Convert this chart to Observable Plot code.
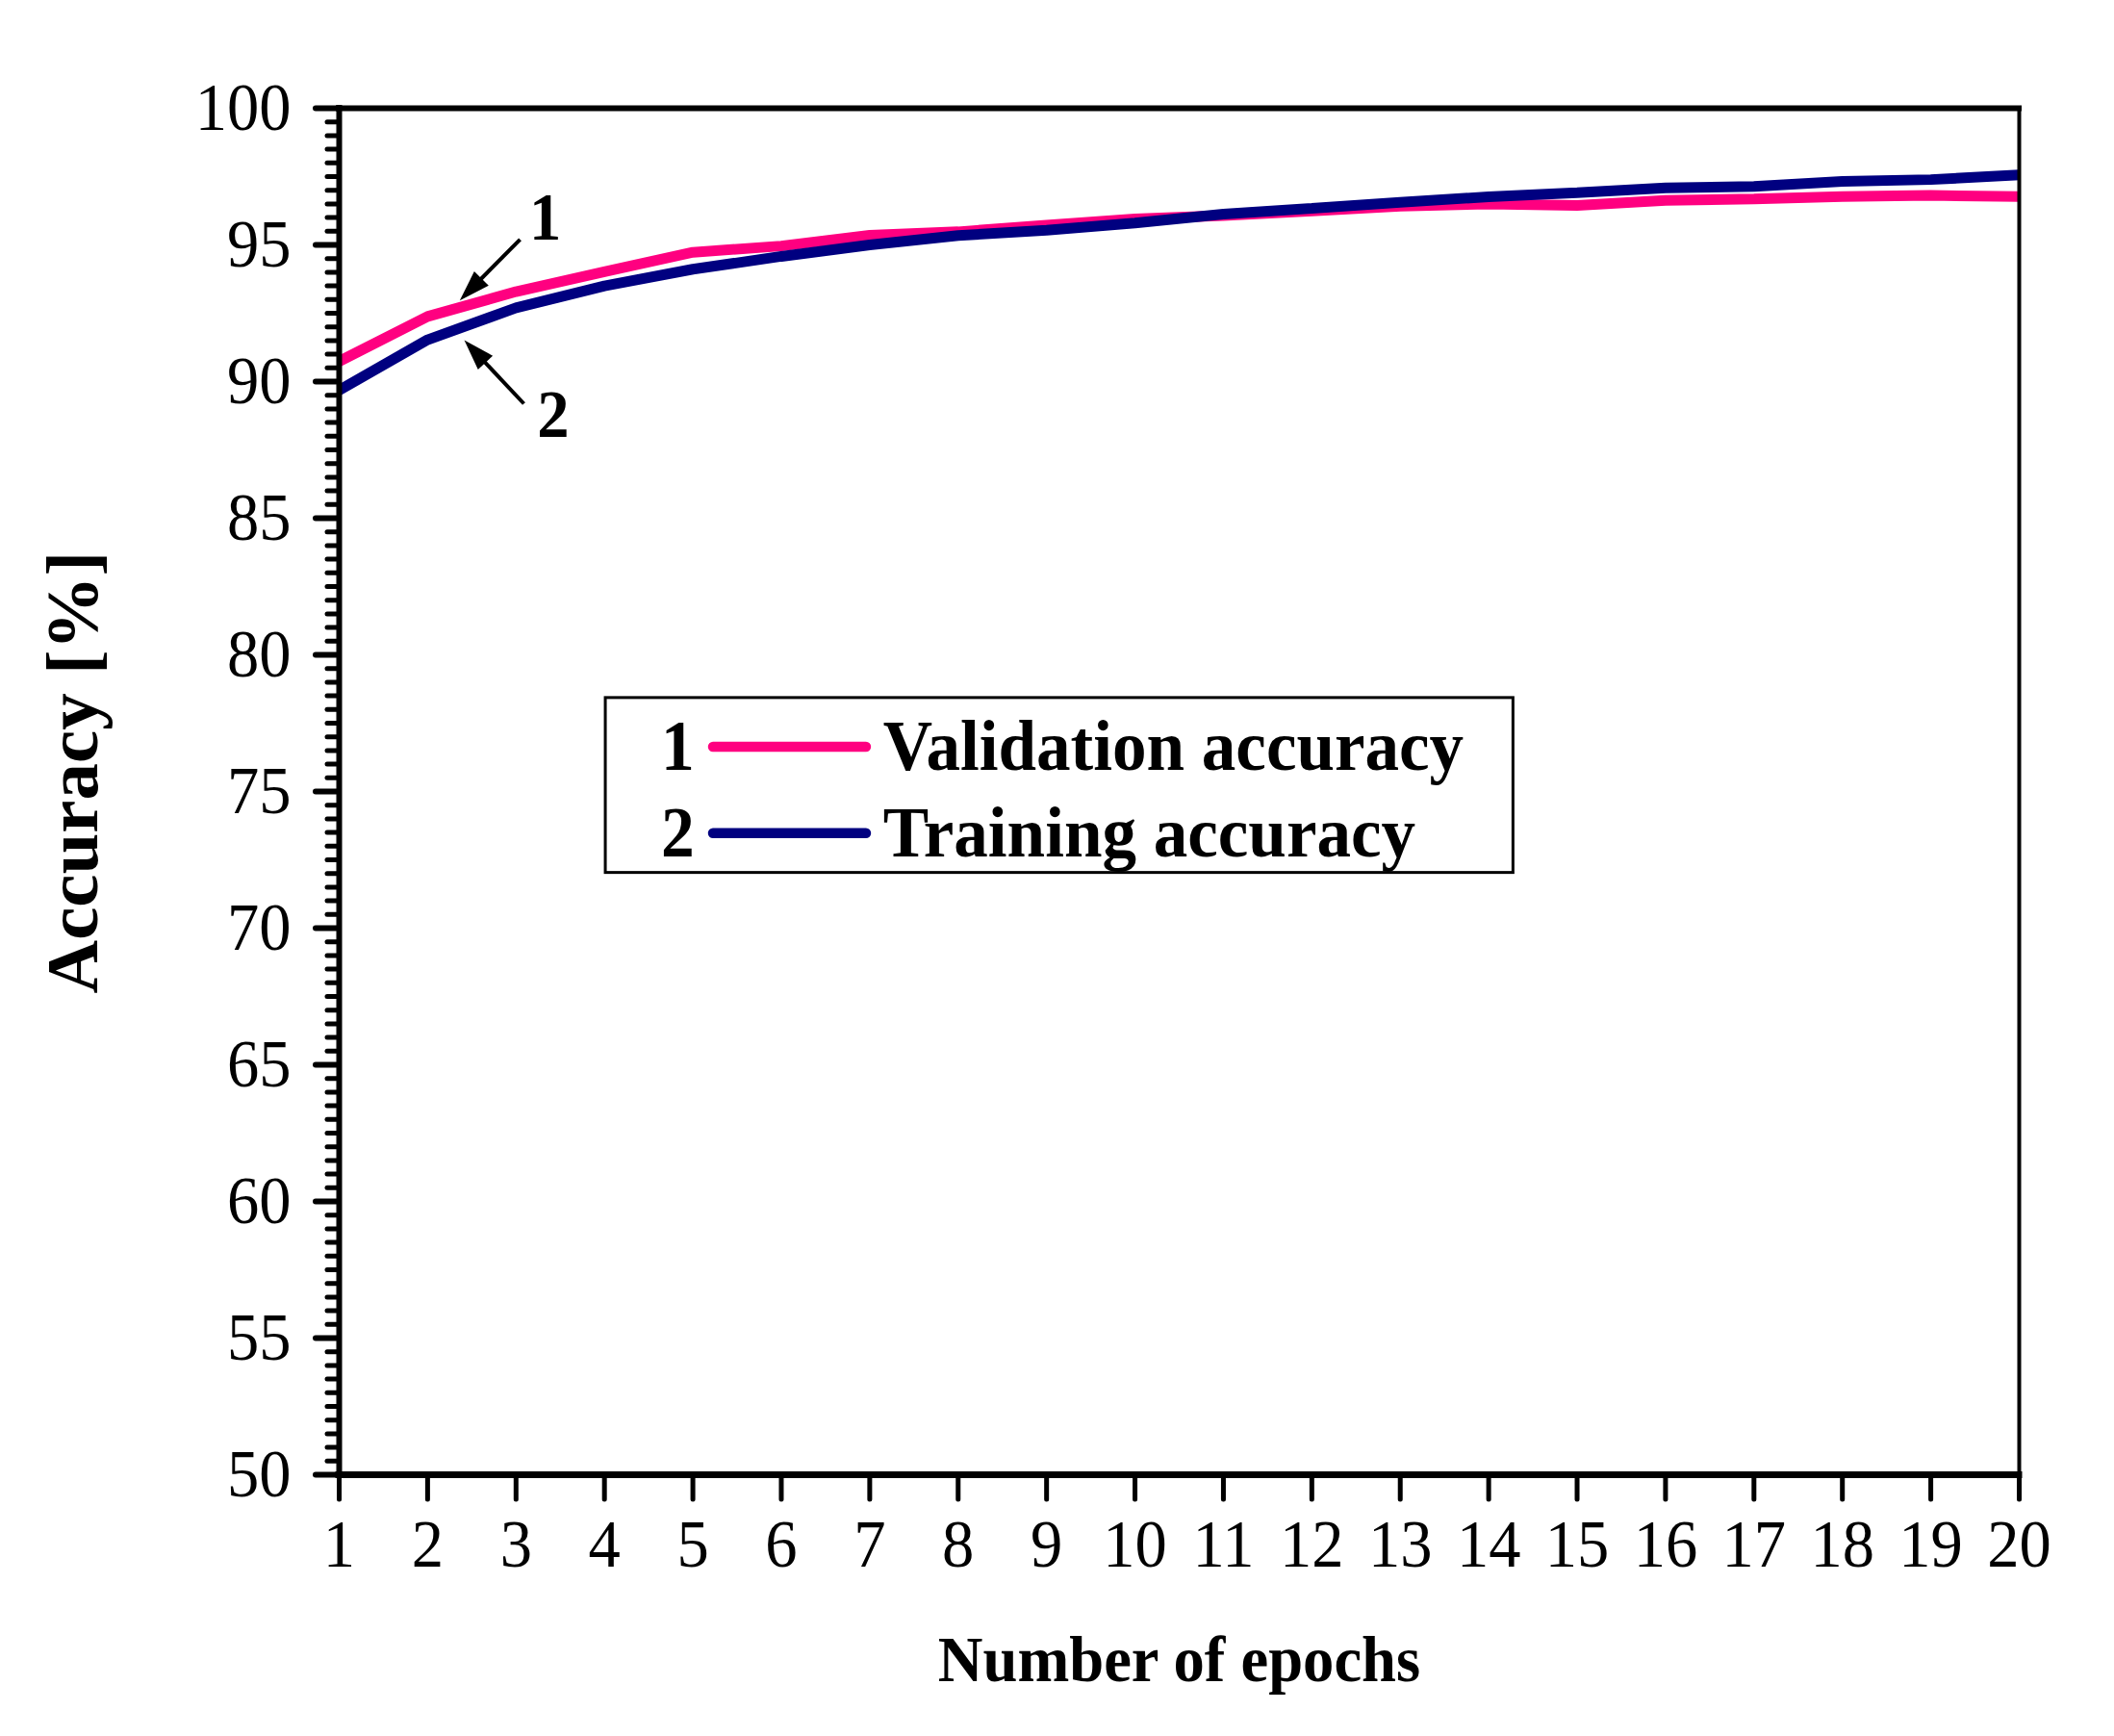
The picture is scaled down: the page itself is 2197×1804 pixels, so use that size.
<!DOCTYPE html>
<html>
<head>
<meta charset="utf-8">
<script src="https://cdn.jsdelivr.net/npm/d3@7"></script>
<script src="https://cdn.jsdelivr.net/npm/@observablehq/plot@0.6"></script>
<style>
  html, body { margin: 0; padding: 0; background: #fff; }
  svg { display: block; }
</style>
</head>
<body>
<div id="chart"></div>
<script>
// ---- data ----
const epochs = [1, 2, 3, 4, 5, 6, 7, 8, 9, 10, 11, 12, 13, 14, 15, 16, 17, 18, 19, 20];
const validation = [90.74, 92.38, 93.29, 94.02, 94.73, 94.96, 95.35, 95.48, 95.72, 95.95,
                    96.07, 96.24, 96.42, 96.50, 96.44, 96.63, 96.68, 96.77, 96.81, 96.77];
const training   = [89.68, 91.53, 92.70, 93.50, 94.11, 94.58, 95.00, 95.34, 95.54, 95.80,
                    96.13, 96.34, 96.56, 96.76, 96.91, 97.09, 97.14, 97.32, 97.39, 97.56];
const xTicks = [1, 2, 3, 4, 5, 6, 7, 8, 9, 10, 11, 12, 13, 14, 15, 16, 17, 18, 19, 20];
const yTicks = [50, 55, 60, 65, 70, 75, 80, 85, 90, 95, 100];
const yMinorTicks = d3.range(0, 101).filter(i => i % 10 !== 0).map(i => 50 + i * 0.5);

const seriesNumbers = ["1", "2"];
const seriesNames = ["Validation accuracy", "Training accuracy"];
const seriesColors = ["#ff0080", "#000080"];
const xTitle = "Number of epochs";
const yTitle = "Accuracy [%]";

// annotation anchors (in data units: epoch, accuracy)
const arrowTails = [[3.046, 95.20], [3.089, 89.19]];
const arrowTips = [[2.364, 92.97], [2.415, 91.51]];
const labelAnchors = [[3.329, 95.18], [3.421, 87.99]];

// legend placement (in data units)
const legendBox = {x1: 4.015, x2: 14.28, y1: 72.02, y2: 78.42};
const legendLineY = [76.64, 73.48];
const legendBaselineY = [75.80, 72.64];
const legendNumberX = 4.83;
const legendLineX = [5.233, 6.963];
const legendTextX = 7.15;

// y-axis title anchor (in data units, left of the frame)
const yTitleAnchor = [-1.735, 75.70];

// ---- layout ----
const W = 2197, H = 1804, ML = 352, MR = 99, MT = 112, MB = 272;
const xS = d3.scaleLinear([1, 20], [ML, W - MR]);
const yS = d3.scaleLinear([50, 100], [H - MB, MT]);
const HEAD_L = 32, HEAD_W = 21;

function headAngle(tail, tip) {
  return Math.atan2(yS(tip[1]) - yS(tail[1]), xS(tip[0]) - xS(tail[0]));
}
function arrowHead(a) {
  const c = Math.cos(a), s = Math.sin(a);
  return {
    draw(ctx) {
      const bx = -HEAD_L * c, by = -HEAD_L * s;
      const px = -s * HEAD_W / 2, py = c * HEAD_W / 2;
      ctx.moveTo(0, 0);
      ctx.lineTo(bx + px, by + py);
      ctx.lineTo(bx - px, by - py);
      ctx.closePath();
    }
  };
}
const arrowMarks = arrowTips.flatMap((tip, i) => {
  const tail = arrowTails[i];
  const a = headAngle(tail, tip);
  const end = [xS.invert(xS(tip[0]) - 0.6 * HEAD_L * Math.cos(a)),
               yS.invert(yS(tip[1]) - 0.6 * HEAD_L * Math.sin(a))];
  return [
    Plot.link([0], {x1: tail[0], y1: tail[1], x2: end[0], y2: end[1],
                    stroke: "black", strokeWidth: 4}),
    Plot.dot([0], {x: tip[0], y: tip[1], r: 10, symbol: arrowHead(a), fill: "black"})
  ];
});

const legendMarks = [
  Plot.rect([legendBox], {x1: "x1", x2: "x2", y1: "y1", y2: "y2",
                          fill: "white", stroke: "black", strokeWidth: 3}),
  ...seriesColors.map((col, i) =>
    Plot.ruleY([legendLineY[i]], {x1: legendLineX[0], x2: legendLineX[1],
                                  stroke: col, strokeWidth: 10.5, strokeLinecap: "round"})),
  Plot.text(seriesNumbers, {x: legendNumberX, y: legendBaselineY, text: d => d,
                            lineAnchor: "bottom", fontWeight: "bold", fontSize: 73}),
  Plot.text(seriesNames, {x: legendTextX, y: legendBaselineY, text: d => d,
                          textAnchor: "start", lineAnchor: "bottom",
                          fontWeight: "bold", fontSize: 73.5})
];

const plot = Plot.plot({
  width: W, height: H,
  marginLeft: ML, marginRight: MR, marginTop: MT, marginBottom: MB,
  style: {fontFamily: '"Liberation Serif", "Times New Roman", serif', background: "white", color: "black"},
  x: {domain: [1, 20]},
  y: {domain: [50, 100]},
  marks: [
    Plot.axisY(yMinorTicks, {tickSize: 12, strokeWidth: 5, strokeLinecap: "round",
                             tickFormat: () => "", label: null}),
    Plot.axisY(yTicks, {tickSize: 24, tickPadding: 26, strokeWidth: 6, strokeLinecap: "round",
                        fontSize: 70, tickFormat: d => String(d), label: null}),
    Plot.axisX(xTicks, {tickSize: 26, tickPadding: 20, strokeWidth: 5, strokeLinecap: "round",
                        fontSize: 70, tickFormat: d => String(d), label: null}),
    Plot.line(epochs, {x: epochs, y: validation, stroke: seriesColors[0], strokeWidth: 11,
                       strokeLinecap: "butt", strokeLinejoin: "miter"}),
    Plot.line(epochs, {x: epochs, y: training, stroke: seriesColors[1], strokeWidth: 11,
                       strokeLinecap: "butt", strokeLinejoin: "miter"}),
    Plot.ruleY([100], {strokeWidth: 6, strokeLinecap: "square"}),
    Plot.ruleY([50], {strokeWidth: 7, strokeLinecap: "square"}),
    Plot.ruleX([1], {strokeWidth: 6, strokeLinecap: "square"}),
    Plot.ruleX([20], {strokeWidth: 4, strokeLinecap: "square"}),
    ...arrowMarks,
    Plot.text(seriesNumbers, {x: labelAnchors.map(d => d[0]), y: labelAnchors.map(d => d[1]),
                              text: d => d, lineAnchor: "bottom", fontWeight: "bold", fontSize: 70}),
    ...legendMarks,
    Plot.text([xTitle], {frameAnchor: "bottom", dy: 214, lineAnchor: "bottom",
                         fontWeight: "bold", fontSize: 68}),
    Plot.text([yTitle], {x: yTitleAnchor[0], y: yTitleAnchor[1], rotate: -90,
                         lineAnchor: "bottom", fontWeight: "bold", fontSize: 77})
  ]
});

document.getElementById("chart").appendChild(plot);

// slight horizontal condensing of the glyphs, as in the original figure
for (const t of plot.querySelectorAll("text")) {
  const s = t.textContent.trim();
  if (!s) continue;
  const tr = t.getAttribute("transform") || "";
  if (tr.includes("rotate")) continue;
  const len = t.getComputedTextLength();
  const k = seriesNames.includes(s) ? 0.967 : 0.95;
  if (len > 0) {
    t.setAttribute("textLength", (len * k).toFixed(1));
    t.setAttribute("lengthAdjust", "spacingAndGlyphs");
  }
}
</script>
</body>
</html>
